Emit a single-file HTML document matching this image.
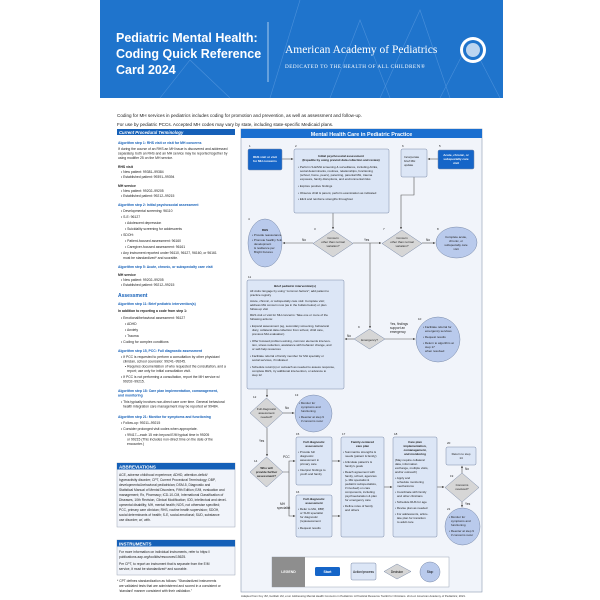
<!DOCTYPE html>
<html><head><meta charset="utf-8"><style>
html,body{margin:0;padding:0;background:#fff}
svg{display:block;font-family:"Liberation Sans",sans-serif}
</style></head><body>
<svg width="600" height="600" viewBox="0 0 600 600" xmlns="http://www.w3.org/2000/svg">
<defs>
<marker id="a" viewBox="0 0 6 6" refX="5" refY="3" markerWidth="4" markerHeight="4" orient="auto"><path d="M0,0L6,3L0,6z" fill="#555"/></marker>
</defs>
<!-- header -->
<rect x="100" y="0" width="403" height="98" fill="#1f74cc"/>
<g stroke="#5c9be0" stroke-width="0.6" fill="none" opacity="0.7">
<path d="M330,98 L360,20 L390,98"/><path d="M380,98 L420,10 L450,98"/><path d="M440,98 L470,40 L500,98"/><path d="M160,98 L190,60 L230,98"/><path d="M270,98 L300,0"/>
</g>
<line x1="268" y1="22" x2="268" y2="82" stroke="#cfe2f7" stroke-width="0.8"/>
<text x="116" y="42" fill="#fff" font-size="12.5" font-weight="bold">Pediatric Mental Health:</text>
<text x="116" y="58" fill="#fff" font-size="12.5" font-weight="bold">Coding Quick Reference</text>
<text x="116" y="74" fill="#fff" font-size="12.5" font-weight="bold">Card 2024</text>
<text x="285" y="53" fill="#fff" font-size="11.5" font-family="Liberation Serif,serif">American Academy of Pediatrics</text>
<text x="285" y="68" fill="#fff" font-size="5.2" font-family="Liberation Serif,serif" letter-spacing="0.5">DEDICATED TO THE HEALTH OF ALL CHILDREN®</text>
<circle cx="473" cy="50" r="13" fill="#fff"/><circle cx="473" cy="50" r="10" fill="#1f74cc"/><circle cx="473" cy="50" r="7" fill="#fff" opacity="0.7"/>
<text x="117" y="117" font-size="4.6" fill="#222">Coding for MH services in pediatrics includes coding for promotion and prevention, as well as assessment and follow-up.</text>
<text x="117" y="126" font-size="4.6" fill="#222">For use by pediatric PCCs. Accepted MH codes may vary by state, including state-specific Medicaid plans.</text>

<!-- left column -->
<rect x="117" y="129" width="118" height="6" fill="#1560b8"/>
<text x="119" y="133.8" font-size="4.2" fill="#fff" font-weight="bold" font-style="italic">Current Procedural Terminology</text>
<g font-size="3.4" fill="#222">
<text x="118" y="144" fill="#1560b8" font-weight="bold">Algorithm step 1: RHS visit or visit for MH concerns</text>
<text x="118" y="150">If during the course of an RHS an MH issue is discovered and addressed</text>
<text x="118" y="154.5">separately, both an RHS and an MH service may be reported together by</text>
<text x="118" y="159">using modifier 25 on the MH service.</text>
<text x="118" y="168" font-weight="bold">RHS visit</text>
<text x="121" y="173">• New patient: 99381–99384</text>
<text x="121" y="178">• Established patient: 99391–99394</text>
<text x="118" y="187" font-weight="bold">MH service</text>
<text x="121" y="192">• New patient: 99202–99205</text>
<text x="121" y="197">• Established patient: 99212–99215</text>
<text x="118" y="206" fill="#1560b8" font-weight="bold">Algorithm step 2: Initial psychosocial assessment</text>
<text x="121" y="212">• Developmental screening: 96110</text>
<text x="121" y="218">• S-E: 96127</text>
<text x="125" y="224">• Adolescent depression</text>
<text x="125" y="230">• Suicidality screening for adolescents</text>
<text x="121" y="236">• SDOH:</text>
<text x="125" y="242">• Patient-focused assessment: 96160</text>
<text x="125" y="248">• Caregiver-focused assessment: 96161</text>
<text x="121" y="254">• Any instrument reported under 96110, 96127, 96160, or 96161</text>
<text x="123" y="259">must be standardized* and scorable.</text>
<text x="118" y="268" fill="#1560b8" font-weight="bold">Algorithm step 5: Acute, chronic, or subspecialty care visit</text>
<text x="118" y="276" font-weight="bold">MH service</text>
<text x="121" y="281">• New patient: 99202–99205</text>
<text x="121" y="286">• Established patient: 99212–99215</text>
<text x="118" y="297" fill="#1560b8" font-size="5" font-weight="bold">Assessment</text>
<text x="118" y="305" fill="#1560b8" font-weight="bold">Algorithm step 11: Brief pediatric intervention(s)</text>
<text x="118" y="312" font-weight="bold">In addition to reporting a code from step 1:</text>
<text x="121" y="319">• Emotional/behavioral assessment: 96127</text>
<text x="125" y="325">• ADHD</text><text x="125" y="331">• Anxiety</text><text x="125" y="337">• Trauma</text>
<text x="121" y="343">• Coding for complex conditions</text>
<text x="118" y="352" fill="#1560b8" font-weight="bold">Algorithm step 15, PCC: Full diagnostic assessment</text>
<text x="121" y="358">• If PCC is requested to perform a consultation by other physician/</text>
<text x="123" y="362.5">clinician, school counselor: 99241–99245.</text>
<text x="125" y="367.5">• Requires documentation of who requested the consultation, and a</text>
<text x="127" y="372">report; use only for initial consultation visit.</text>
<text x="121" y="378">• If PCC is not performing a consultation, report the MH service w/</text>
<text x="123" y="382.5">99202–99215.</text>
<text x="118" y="392" fill="#1560b8" font-weight="bold">Algorithm step 18: Care plan implementation, comanagement,</text>
<text x="118" y="396.5" fill="#1560b8" font-weight="bold">and monitoring</text>
<text x="121" y="403">• This typically involves non-direct care over time. General behavioral</text>
<text x="123" y="407.5">health integration care management may be reported w/ 99484.</text>
<text x="118" y="418" fill="#1560b8" font-weight="bold">Algorithm step 21: Monitor for symptoms and functioning</text>
<text x="121" y="424">• Follow-up: 99211–99215</text>
<text x="121" y="430">• Consider prolonged visit codes when appropriate.</text>
<text x="125" y="436">• 99417—each 15 min beyond E/M typical time in 99205</text>
<text x="127" y="440.5">or 99215 (This includes non-direct time on the date of the</text>
<text x="127" y="445">encounter.)</text>
</g>
<rect x="117" y="463" width="118" height="64" fill="#f1f4fa" stroke="#9aa6b6" stroke-width="0.5"/>
<rect x="117" y="463" width="118" height="6.5" fill="#1560b8"/>
<text x="119" y="468.5" font-size="4.5" fill="#fff" font-weight="bold">ABBREVIATIONS</text>
<g font-size="3.3" fill="#222">
<text x="119" y="476">ACE, adverse childhood experience; ADHD, attention-deficit/</text>
<text x="119" y="481">hyperactivity disorder; CPT, Current Procedural Terminology; DBP,</text>
<text x="119" y="486">developmental-behavioral pediatrician; DSM-5, Diagnostic and</text>
<text x="119" y="491">Statistical Manual of Mental Disorders, Fifth Edition; E/M, evaluation and</text>
<text x="119" y="496">management; Rx, Pharmacy; ICD-10-CM, International Classification of</text>
<text x="119" y="501">Diseases, 10th Revision, Clinical Modification; IDD, intellectual and devel-</text>
<text x="119" y="506">opmental disability; MH, mental health; NOS, not otherwise specified;</text>
<text x="119" y="511">PCC, primary care clinician; RHS, routine health supervision; SDOH,</text>
<text x="119" y="516">social determinants of health; S-E, social-emotional; SUD, substance</text>
<text x="119" y="521">use disorder; w/, with.</text>
</g>
<rect x="117" y="540" width="118" height="35" fill="#f1f4fa" stroke="#9aa6b6" stroke-width="0.5"/>
<rect x="117" y="540" width="118" height="6.5" fill="#1560b8"/>
<text x="119" y="545.5" font-size="4.5" fill="#fff" font-weight="bold">INSTRUMENTS</text>
<g font-size="3.3" fill="#222">
<text x="119" y="553">For more information on individual instruments, refer to https://</text>
<text x="119" y="558">publications.aap.org/toolkits/resources/15625.</text>
<text x="119" y="565">Per CPT, to report an instrument that is separate from the E/M</text>
<text x="119" y="570">service, it must be standardized* and scorable.</text>
<text x="117" y="582">* CPT defines standardization as follows: "Standardized instruments</text>
<text x="119" y="587">are validated tests that are administered and scored in a consistent or</text>
<text x="119" y="592">'standard' manner consistent with their validation."</text>
</g>

<!-- flowchart panel -->
<rect x="241" y="129" width="241" height="463" fill="#f1f4fa" stroke="#8a9ab0" stroke-width="0.6"/>
<rect x="241" y="129" width="241" height="9" fill="#1a6fd0"/>
<text x="361.5" y="136" font-size="5.4" fill="#fff" font-weight="bold" text-anchor="middle">Mental Health Care in Pediatric Practice</text>

<!-- connectors -->
<g stroke="#555" stroke-width="0.6" fill="none">
<line x1="282" y1="159" x2="293" y2="159" marker-end="url(#a)"/>
<line x1="438" y1="159" x2="428" y2="159" marker-end="url(#a)"/>
<line x1="333" y1="213" x2="333" y2="229" marker-end="url(#a)"/>
<polyline points="414,177 414,195 401,195 401,229" marker-end="url(#a)"/>
<line x1="313" y1="243" x2="283" y2="243" marker-end="url(#a)"/>
<line x1="353" y1="243" x2="381" y2="243" marker-end="url(#a)"/>
<line x1="422" y1="243" x2="435" y2="243" marker-end="url(#a)"/>
<line x1="370" y1="243" x2="370" y2="328" marker-end="url(#a)"/>
<line x1="385" y1="339" x2="415" y2="339" marker-end="url(#a)"/>
<line x1="354" y1="339" x2="345" y2="339" marker-end="url(#a)"/>
<line x1="267" y1="389" x2="267" y2="397" marker-end="url(#a)"/>
<line x1="283" y1="413" x2="294" y2="413" marker-end="url(#a)"/>
<line x1="267" y1="428" x2="267" y2="456" marker-end="url(#a)"/>
<polyline points="283,472 289,472 289,461 295,461" marker-end="url(#a)"/>
<polyline points="289,472 289,516 295,516" marker-end="url(#a)"/>
<line x1="332" y1="461" x2="340" y2="461" marker-end="url(#a)"/>
<line x1="332" y1="516" x2="340" y2="516" marker-end="url(#a)"/>
<line x1="384" y1="487" x2="392" y2="487" marker-end="url(#a)"/>
<line x1="437" y1="487" x2="444" y2="487" marker-end="url(#a)"/>
<line x1="462" y1="473" x2="462" y2="466" marker-end="url(#a)"/>
<line x1="462" y1="502" x2="462" y2="507" marker-end="url(#a)"/>
</g>
<g font-size="3.2" fill="#222">
<text x="302" y="241">No</text><text x="364" y="241">Yes</text><text x="426" y="241">No</text>
<text x="347" y="337">No</text>
<text x="390" y="325">Yes, findings</text><text x="390" y="329">support an</text><text x="390" y="333">emergency</text>
<text x="285" y="409">No</text><text x="259" y="442">Yes</text>
<text x="283" y="458">PCC</text><text x="280" y="505">MH</text><text x="277" y="509">specialist</text>
<text x="465" y="470">No</text><text x="465" y="505">Yes</text>
</g>

<!-- nodes -->
<g font-size="3" fill="#222">
<text x="249" y="147">1</text><text x="295" y="147">2</text><text x="402" y="147">6</text><text x="439" y="147">5</text>
<text x="248" y="220">4</text><text x="314" y="230">3</text><text x="383" y="230">7</text><text x="437" y="230">8</text>
<text x="248" y="278">11</text><text x="358" y="328">9</text><text x="418" y="320">10</text>
<text x="253" y="398">12</text><text x="295" y="396">13</text><text x="296" y="435">15</text><text x="296" y="493">16</text>
<text x="254" y="462">14</text><text x="342" y="435">17</text><text x="394" y="435">18</text><text x="447" y="444">20</text>
<text x="450" y="477">19</text><text x="447" y="510">21</text>
</g>
<g stroke="#7a8aa8" stroke-width="0.5">
<rect x="248" y="149" width="34" height="21" rx="1.5" fill="#1565c8"/>
<rect x="438" y="150" width="36" height="19" rx="1.5" fill="#1565c8"/>
<rect x="294" y="149" width="95" height="64" rx="1.5" fill="#dce6f6"/>
<rect x="401" y="149" width="26" height="28" rx="1.5" fill="#dce6f6"/>
<ellipse cx="265" cy="243" rx="17" ry="24" fill="#b9caec"/>
<polygon points="333,230 353,243.5 333,257 313,243.5" fill="#d6d6d6"/>
<polygon points="402,230 422,243.5 402,257 382,243.5" fill="#d6d6d6"/>
<ellipse cx="456.5" cy="242.5" rx="20.5" ry="15.5" fill="#b9caec"/>
<rect x="247" y="280" width="97" height="109" rx="1.5" fill="#dce6f6"/>
<polygon points="369.5,329 385,339 369.5,349 354,339" fill="#d6d6d6"/>
<ellipse cx="438" cy="339.5" rx="22" ry="22.5" fill="#b9caec"/>
<polygon points="266.5,398 283,413 266.5,428 250,413" fill="#d6d6d6"/>
<ellipse cx="313.5" cy="413.5" rx="18.5" ry="18.5" fill="#b9caec"/>
<rect x="296" y="437" width="36" height="48" rx="1.5" fill="#dce6f6"/>
<rect x="296" y="495" width="36" height="42" rx="1.5" fill="#dce6f6"/>
<polygon points="266.5,457 283,472 266.5,487 250,472" fill="#d6d6d6"/>
<rect x="341" y="437" width="43" height="100" rx="1.5" fill="#dce6f6"/>
<rect x="393" y="437" width="44" height="100" rx="1.5" fill="#dce6f6"/>
<rect x="446" y="447" width="30" height="18" rx="1.5" fill="#dce6f6"/>
<polygon points="462,473 479,487.5 462,502 445,487.5" fill="#d6d6d6"/>
<ellipse cx="462.5" cy="526.5" rx="17.5" ry="18.5" fill="#b9caec"/>
</g>
<g font-size="3" fill="#222">
<text x="265" y="158" fill="#fff" font-weight="bold" text-anchor="middle">RHS visit or visit</text>
<text x="265" y="162" fill="#fff" font-weight="bold" text-anchor="middle">for MH concerns</text>
<text x="456" y="156" fill="#fff" font-weight="bold" text-anchor="middle">Acute, chronic, or</text>
<text x="456" y="160" fill="#fff" font-weight="bold" text-anchor="middle">subspecialty care</text>
<text x="456" y="164" fill="#fff" font-weight="bold" text-anchor="middle">visit</text>
<text x="341" y="157" font-weight="bold" text-anchor="middle">Initial psychosocial assessment</text>
<text x="341" y="161" font-weight="bold" text-anchor="middle">(Expedite by using previsit data collection and review)</text>
<text x="298" y="168">• Perform S-E/MH screening &amp; surveillance, including ACEs,</text>
<text x="300" y="172">social determinants, routines, relationships, functioning</text>
<text x="300" y="176">(school, home, peers), parenting, parental MH, trauma</text>
<text x="300" y="180">exposure, family disruptions, and environmental risks</text>
<text x="298" y="187">• Explore positive findings</text>
<text x="298" y="194">• Observe child &amp; parent, perform examination as indicated</text>
<text x="298" y="200">• Elicit and reinforce strengths throughout</text>
<text x="404" y="158">Incorporate</text><text x="404" y="162">brief MH</text><text x="404" y="166">update</text>
<text x="265" y="231" font-weight="bold" text-anchor="middle">RHS</text>
<text x="252" y="236">• Provide reassurance</text>
<text x="252" y="241">• Promote healthy S-E</text><text x="254" y="245">development</text><text x="254" y="249">&amp; resilience per</text><text x="254" y="253">Bright Futures</text>
<text x="333" y="239" text-anchor="middle">Concern</text><text x="333" y="243" text-anchor="middle">other than normal</text><text x="333" y="247" text-anchor="middle">variation?</text>
<text x="402" y="239" text-anchor="middle">Concern</text><text x="402" y="243" text-anchor="middle">other than normal</text><text x="402" y="247" text-anchor="middle">variation?</text>
<text x="456" y="238" text-anchor="middle">Complete acute,</text><text x="456" y="242" text-anchor="middle">chronic, or</text><text x="456" y="246" text-anchor="middle">subspecialty care</text><text x="456" y="250" text-anchor="middle">visit</text>
<text x="295" y="287" font-weight="bold" text-anchor="middle">Brief pediatric intervention(s)</text>
<text x="250" y="292">All visits: Engage by using "common factors"; add patient to</text>
<text x="250" y="296">practice registry</text>
<text x="250" y="302">Acute, chronic, or subspecialty care visit: Complete visit;</text>
<text x="250" y="306">address MH concern now (as in the bullets below) or plan</text>
<text x="250" y="310">follow-up visit</text>
<text x="250" y="316">RHS visit or visit for MH concerns: Take one or more of the</text>
<text x="250" y="320">following actions:</text>
<text x="250" y="327">• Expand assessment (eg, secondary screening, behavioral</text>
<text x="252" y="331">diary, collateral data collection from school, child care,</text>
<text x="252" y="335">previous MH evaluation)</text>
<text x="250" y="342">• Offer focused problem-solving, common elements interven-</text>
<text x="252" y="346">tion, stress reduction, assistance with behavior change, and</text>
<text x="252" y="350">or self-help resources</text>
<text x="250" y="357">• Facilitate referral of family member for MH specialty or</text>
<text x="252" y="361">social services, if indicated</text>
<text x="250" y="368">• Schedule return(s) or outreach as needed to assess response,</text>
<text x="252" y="372">complete RHS, try additional intervention, or advance to</text>
<text x="252" y="376">step 12</text>
<text x="369.5" y="341" text-anchor="middle">Emergency?</text>
<text x="423" y="328">• Facilitate referral for</text><text x="425" y="332">emergency services</text>
<text x="423" y="338">• Request results</text>
<text x="423" y="344">• Return to algorithm at</text><text x="425" y="348">step 17</text><text x="425" y="352">when resolved</text>
<text x="266.5" y="410" text-anchor="middle">Full diagnostic</text><text x="266.5" y="414" text-anchor="middle">assessment</text><text x="266.5" y="418" text-anchor="middle">needed?</text>
<text x="299" y="404">• Monitor for</text><text x="301" y="408">symptoms and</text><text x="301" y="412">functioning</text>
<text x="299" y="418">• Reenter at step 9</text><text x="301" y="422">if concerns recur</text>
<text x="314" y="443" font-weight="bold" text-anchor="middle">Full diagnostic</text><text x="314" y="447" font-weight="bold" text-anchor="middle">assessment</text>
<text x="298" y="453">• Provide full</text><text x="300" y="457">diagnostic</text><text x="300" y="461">assessment in</text><text x="300" y="465">primary care</text>
<text x="298" y="471">• Interpret findings to</text><text x="300" y="475">youth and family</text>
<text x="314" y="500" font-weight="bold" text-anchor="middle">Full diagnostic</text><text x="314" y="504" font-weight="bold" text-anchor="middle">assessment</text>
<text x="298" y="510">• Refer to MH, DBP,</text><text x="300" y="514">or SUD specialist</text><text x="300" y="518">for diagnostic</text><text x="300" y="522">(re)assessment</text>
<text x="298" y="529">• Request results</text>
<text x="266.5" y="469" font-weight="bold" text-anchor="middle">Who will</text><text x="266.5" y="473" font-weight="bold" text-anchor="middle">provide further</text><text x="266.5" y="477" font-weight="bold" text-anchor="middle">assessment?</text>
<text x="362.5" y="443" font-weight="bold" text-anchor="middle">Family-centered</text><text x="362.5" y="447" font-weight="bold" text-anchor="middle">care plan</text>
<text x="343" y="453">• Summarize strengths &amp;</text><text x="345" y="457">needs (patient &amp; family)</text>
<text x="343" y="463">• Articulate patient's &amp;</text><text x="345" y="467">family's goals</text>
<text x="343" y="473">• Reach agreement with</text><text x="345" y="477">family, school, agencies</text><text x="345" y="481">(+ MH specialist &amp;</text><text x="345" y="485">pediatric subspecialists,</text><text x="345" y="489">if involved) on care</text><text x="345" y="493">components, including</text><text x="345" y="497">psychoeducation &amp; plan</text><text x="345" y="501">for emergency care</text>
<text x="343" y="507">• Define roles of family</text><text x="345" y="511">and others</text>
<text x="415" y="443" font-weight="bold" text-anchor="middle">Care plan</text><text x="415" y="447" font-weight="bold" text-anchor="middle">implementation,</text><text x="415" y="451" font-weight="bold" text-anchor="middle">comanagement,</text><text x="415" y="455" font-weight="bold" text-anchor="middle">and monitoring</text>
<text x="395" y="461">(May require collateral</text><text x="395" y="465">data, information</text><text x="395" y="469">exchange, multiple visits,</text><text x="395" y="473">and/or outreach)</text>
<text x="395" y="479">• Apply and</text><text x="397" y="483">schedule monitoring</text><text x="397" y="487">mechanisms</text>
<text x="395" y="493">• Coordinate with family</text><text x="397" y="497">and other clinicians</text>
<text x="395" y="503">• Schedule RHS for age</text>
<text x="395" y="509">• Revise plan as needed</text>
<text x="395" y="515">• For adolescents, articu-</text><text x="397" y="519">late plan for transition</text><text x="397" y="523">to adult care</text>
<text x="461" y="455" text-anchor="middle">Return to step</text><text x="461" y="459" text-anchor="middle">14</text>
<text x="462" y="486" text-anchor="middle">Concerns</text><text x="462" y="490" text-anchor="middle">resolved?</text>
<text x="449" y="518">• Monitor for</text><text x="451" y="522">symptoms and</text><text x="451" y="526">functioning</text>
<text x="449" y="532">• Reenter at step 9</text><text x="451" y="536">if concerns recur</text>
</g>

<!-- legend -->
<rect x="272" y="557" width="177" height="30" fill="#fff" stroke="#9aa6b6" stroke-width="0.5"/>
<rect x="272" y="557" width="33" height="30" fill="#8e8e8e"/>
<text x="288.5" y="573" font-size="3.5" fill="#fff" font-weight="bold" text-anchor="middle">LEGEND</text>
<rect x="315" y="567" width="25" height="9" rx="1.5" fill="#1565c8"/>
<text x="327.5" y="573" font-size="3.5" fill="#fff" font-weight="bold" text-anchor="middle">Start</text>
<rect x="351" y="563" width="25" height="17" rx="1.5" fill="#dce6f6" stroke="#7a8aa8" stroke-width="0.5"/>
<text x="363.5" y="573" font-size="3.2" text-anchor="middle">Action/process</text>
<polygon points="397,564 411,571.5 397,579 384,571.5" fill="#d6d6d6" stroke="#7a8aa8" stroke-width="0.5"/>
<text x="397" y="573" font-size="3.2" text-anchor="middle">Decision</text>
<circle cx="430" cy="572" r="10" fill="#b9caec" stroke="#7a8aa8" stroke-width="0.5"/>
<text x="430" y="573" font-size="3.2" text-anchor="middle">Stop</text>
<text x="241" y="597" font-size="2.8" fill="#333">Adapted from Foy JM, Gottlieb LM, et al. Addressing Mental Health Concerns in Pediatrics: A Practical Resource Toolkit for Clinicians. 2nd ed. American Academy of Pediatrics; 2021.</text>
</svg>
</body></html>
